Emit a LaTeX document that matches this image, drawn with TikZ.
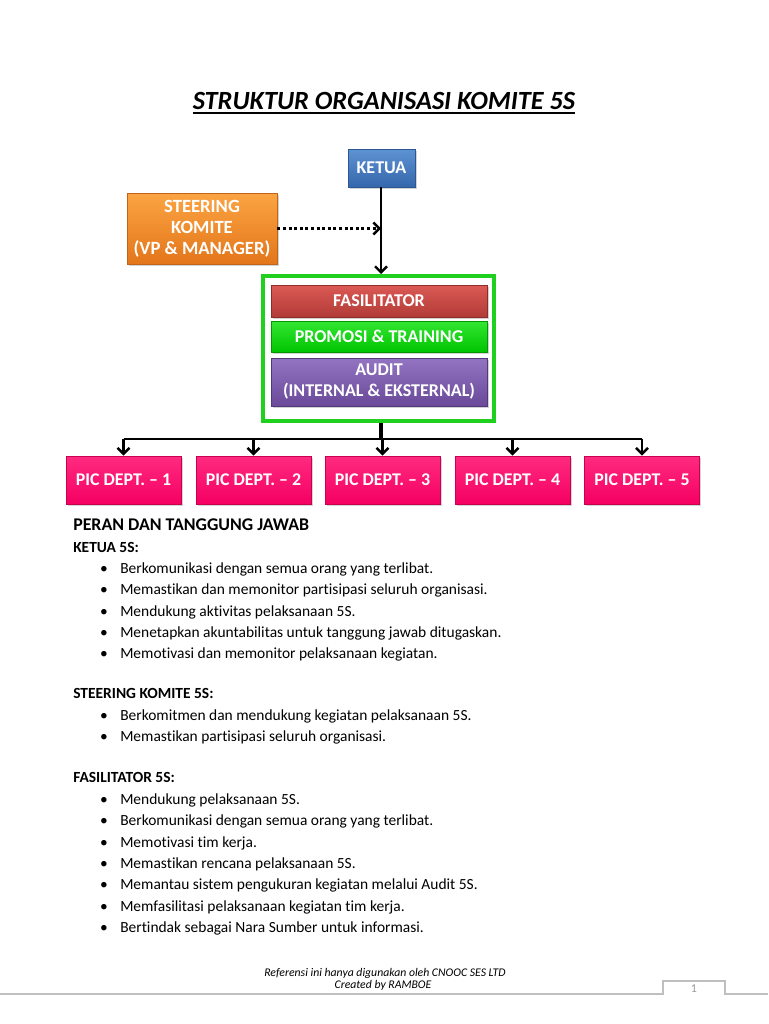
\documentclass[tikz,border=0pt]{standalone}
\usepackage{fontspec}
\setmainfont{Carlito}[Ligatures=NoCommon]
\usetikzlibrary{arrows.meta,shadows}
\definecolor{ketuaTop}{HTML}{5E93D3}
\definecolor{ketuaBot}{HTML}{3567AC}
\definecolor{ketuaLine}{HTML}{2C5790}
\definecolor{orTop}{HTML}{FBA443}
\definecolor{orBot}{HTML}{E3761A}
\definecolor{orLine}{HTML}{C0651A}
\definecolor{redTop}{HTML}{DB5A55}
\definecolor{redBot}{HTML}{B23B37}
\definecolor{redLine}{HTML}{8E2C29}
\definecolor{grTop}{HTML}{33E633}
\definecolor{grBot}{HTML}{00C400}
\definecolor{grLine}{HTML}{009A00}
\definecolor{frameGreen}{HTML}{1FD01F}
\definecolor{puTop}{HTML}{9274C2}
\definecolor{puBot}{HTML}{6A4A98}
\definecolor{puLine}{HTML}{523878}
\definecolor{pkTop}{HTML}{FF2A80}
\definecolor{pkBot}{HTML}{F50062}
\definecolor{pkLine}{HTML}{C8004F}
\definecolor{footGray}{HTML}{BFBFBF}
\begin{document}
\begin{tikzpicture}[x=0.75pt,y=-0.75pt,
  box/.style={rectangle, draw, line width=0.6pt, align=center, text=white,
    font=\fontsize{13.5}{15.75}\selectfont\bfseries, inner sep=0pt,
    drop shadow={shadow xshift=1.2pt, shadow yshift=-1.2pt, opacity=0.35}},
  ketuabox/.style={box, top color=ketuaTop, bottom color=ketuaBot, draw=ketuaLine},
  orbox/.style={box, top color=orTop, bottom color=orBot, draw=orLine},
  redbox/.style={box, top color=redTop, bottom color=redBot, draw=redLine},
  grbox/.style={box, top color=grTop, bottom color=grBot, draw=grLine},
  pubox/.style={box, top color=puTop, bottom color=puBot, draw=puLine},
  picbox/.style={box, top color=pkTop, bottom color=pkBot, draw=pkLine,
    minimum width=86.25pt, minimum height=36pt, font=\fontsize{13.4}{15}\selectfont\bfseries},
  conn/.style={line width=2.2pt, black},
  tip/.style={-{Straight Barb[length=4.5pt,width=9pt,line width=1.8pt]}},
  head/.style={anchor=base west, inner sep=0pt, font=\fontsize{11.6}{13}\selectfont\bfseries},
  bodytxt/.style={anchor=base west, inner sep=0pt, font=\fontsize{11.6}{13}\selectfont},
  bul/.style={anchor=base, inner sep=0pt, font=\fontsize{11.6}{13}\selectfont},
  foot/.style={anchor=base, inner sep=0pt, font=\fontsize{8.8}{10}\selectfont\itshape}
]
\useasboundingbox (0,0) rectangle (768,1024);

% title
\node[anchor=base, inner sep=0pt, font=\fontsize{19.7}{22}\selectfont\bfseries\itshape] (title) at (384,109) {STRUKTUR ORGANISASI KOMITE 5S};
\draw[line width=1.1pt] (title.base west) ++(0,4) coordinate (ul1) -- (ul1 -| title.base east);

% chart boxes
\node[ketuabox, minimum width=50.25pt, minimum height=28.5pt] (ketua) at (381.5,168) {KETUA};
\node[orbox, minimum width=112.5pt, minimum height=53.25pt, font=\fontsize{14}{15.75}\selectfont\bfseries] (steer) at (202,228.5) {STEERING\\KOMITE\\(VP \& MANAGER)};
\node[rectangle, draw=frameGreen, line width=3pt, minimum width=173.25pt, minimum height=108.75pt, fill=white] (frame) at (378.5,348.5) {};
\node[redbox, minimum width=162pt, minimum height=24pt] (fasil) at (379,301) {FASILITATOR};
\node[grbox, minimum width=162pt, minimum height=23.25pt] (promo) at (379,336.5) {PROMOSI \& TRAINING};
\node[pubox, minimum width=162pt, minimum height=36pt] (audit) at (379,382) {AUDIT\\(INTERNAL \& EKSTERNAL)};

\node[picbox] (pic1) at (123.5,480) {PIC DEPT. – 1};
\node[picbox] (pic2) at (253.5,480) {PIC DEPT. – 2};
\node[picbox] (pic3) at (382.5,480) {PIC DEPT. – 3};
\node[picbox] (pic4) at (512.5,480) {PIC DEPT. – 4};
\node[picbox] (pic5) at (642,480) {PIC DEPT. – 5};

% connectors
\draw[conn, tip] (381,187) coordinate (k1) -- (k1 |- frame.north);
\draw[conn, tip, dotted, line width=2pt] (steer.east) -- (steer.east -| k1);
\coordinate (bar) at (381,439);
\draw[line width=3.6pt] (frame.south -| bar) -- (bar);
\draw[conn] (pic1.north |- bar) -- (pic5.north |- bar);
\foreach \p in {pic1,pic2,pic3,pic4,pic5}
  \draw[conn, tip] (\p.north |- bar) -- (\p.north);

% text section
\node[anchor=base west, inner sep=0pt, font=\fontsize{13.4}{15}\selectfont\bfseries] (peran) at (73,530) {PERAN DAN TANGGUNG JAWAB};
\node[head] (hk) at (73,552) {KETUA 5S:};
\foreach \y/\t [count=\i] in {573/Berkomunikasi dengan semua orang yang terlibat.,
  594.5/Memastikan dan memonitor partisipasi seluruh organisasi.,
  616/Mendukung aktivitas pelaksanaan 5S.,
  637/Menetapkan akuntabilitas untuk tanggung jawab ditugaskan.,
  658.5/Memotivasi dan memonitor pelaksanaan kegiatan.}{
  \node[bul] (bk\i) at (104,\y) {\textbullet};
  \node[bodytxt] (tk\i) at (120,\y) {\t};
}
\node[head] (hs) at (73,698.5) {STEERING KOMITE 5S:};
\foreach \y/\t [count=\i] in {720/Berkomitmen dan mendukung kegiatan pelaksanaan 5S.,
  741.5/Memastikan partisipasi seluruh organisasi.}{
  \node[bul] (bs\i) at (104,\y) {\textbullet};
  \node[bodytxt] (ts\i) at (120,\y) {\t};
}
\node[head] (hf) at (73,782.5) {FASILITATOR 5S:};
\foreach \y/\t [count=\i] in {804/Mendukung pelaksanaan 5S.,
  825.5/Berkomunikasi dengan semua orang yang terlibat.,
  847/Memotivasi tim kerja.,
  868/Memastikan rencana pelaksanaan 5S.,
  889.5/Memantau sistem pengukuran kegiatan melalui Audit 5S.,
  911/Memfasilitasi pelaksanaan kegiatan tim kerja.,
  932/Bertindak sebagai Nara Sumber untuk informasi.}{
  \node[bul] (bf\i) at (104,\y) {\textbullet};
  \node[bodytxt] (tf\i) at (120,\y) {\t};
}

% footer
\node[foot] (f1) at (385,976) {Referensi ini hanya digunakan oleh CNOOC SES LTD};
\node[foot] (f2) at (383,988) {Created by RAMBOE};
\draw[footGray, line width=1.2pt] (0,994) -- (663,994) -- (663,981) -- (725,981) -- (725,994) -- (768,994);
\node[anchor=base, inner sep=0pt, text=footGray!80!black, font=\fontsize{9}{10}\selectfont] (pg) at (694,992) {1};
\end{tikzpicture}
\end{document}
